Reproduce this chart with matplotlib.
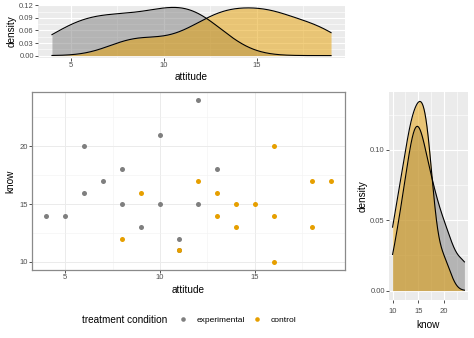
import numpy as np
import matplotlib
matplotlib.use('Agg')
import matplotlib.pyplot as plt
from matplotlib.lines import Line2D

plt.rcParams['font.family'] = ['Liberation Sans', 'DejaVu Sans']

# attitude / know scores per group
# (experimental (11, 11) sits under the control point, as the densities show)
exp_attitude = [4, 5, 6, 6, 7, 8, 8, 9, 10, 10, 11, 11, 12, 12, 13]
exp_know = [14, 14, 20, 16, 17, 18, 15, 13, 21, 15, 12, 11, 24, 15, 18]
ctl_attitude = [8, 9, 11, 12, 13, 13, 14, 14, 15, 16, 16, 16, 18, 18, 19]
ctl_know = [12, 16, 11, 17, 16, 14, 15, 13, 15, 20, 14, 10, 17, 13, 17]

groups = ['experimental', 'control']
colors = {'experimental': '#7F7F7F', 'control': '#E69F00'}

W, H = 474, 338
TITLE_SIZE = 7.2


def box(x0, y0, x1, y1):
    '''Pixel box (top-left origin) -> figure fraction rect.'''
    return [x0 / W, (H - y1) / H, (x1 - x0) / W, (y1 - y0) / H]


def bw_nrd0(x):
    x = np.asarray(x, float)
    iqr = np.subtract(*np.percentile(x, [75, 25]))
    lo = min(np.std(x, ddof=1), iqr / 1.34)
    return 0.9 * lo * len(x) ** -0.2


def kde(x, grid):
    x = np.asarray(x, float)
    h = bw_nrd0(x)
    z = (grid[:, None] - x[None, :]) / h
    return np.exp(-0.5 * z ** 2).sum(axis=1) / (len(x) * h * np.sqrt(2 * np.pi))


def style_ticks(ax):
    ax.tick_params(which='major', length=2, width=0.6, color='#333333',
                   labelsize=5.5, labelcolor='#4D4D4D', pad=1)
    ax.tick_params(which='minor', length=0)


def gray_theme(ax):
    ax.set_facecolor('#EBEBEB')
    for s in ax.spines.values():
        s.set_visible(False)
    ax.grid(which='major', color='white', lw=0.8)
    ax.grid(which='minor', color='white', lw=0.4)
    ax.set_axisbelow(True)
    style_ticks(ax)


def density_panel(ax, data, lo, hi):
    grid = np.linspace(lo, hi, 512)
    top = 0
    for g in groups:
        d = kde(data[g], grid)
        ax.fill_between(grid, 0, d, color=colors[g], alpha=0.5, lw=0)
        ax.plot(grid, d, color='black', lw=0.8)
        top = max(top, d.max())
    ax.set_ylim(-0.05 * top, 1.05 * top)


fig = plt.figure(figsize=(W / 100, H / 100), dpi=100)

# top: attitude density
ax_top = fig.add_axes(box(38, 5, 345, 58))
gray_theme(ax_top)
density_panel(ax_top, {'experimental': exp_attitude, 'control': ctl_attitude},
              4, 19)
ax_top.set_xlim(3.25, 19.75)
ax_top.set_xticks([5, 10, 15])
ax_top.set_xticks([7.5, 12.5, 17.5], minor=True)
ax_top.set_yticks([0, 0.03, 0.06, 0.09, 0.12])
ax_top.set_yticks([0.015, 0.045, 0.075, 0.105], minor=True)
ax_top.set_yticklabels(['0.00', '0.03', '0.06', '0.09', '0.12'])
ax_top.set_xlabel('attitude', fontsize=TITLE_SIZE, labelpad=2)
ax_top.set_ylabel('density', fontsize=TITLE_SIZE, labelpad=2)

# main scatter
ax = fig.add_axes(box(32, 92, 345, 270))
ax.scatter(exp_attitude, exp_know, s=13, color=colors['experimental'],
           lw=0, zorder=3)
ax.scatter(ctl_attitude, ctl_know, s=13, color=colors['control'],
           lw=0, zorder=3)
ax.set_xlim(3.25, 19.75)
ax.set_ylim(9.3, 24.7)
ax.set_xticks([5, 10, 15])
ax.set_xticks([7.5, 12.5, 17.5], minor=True)
ax.set_yticks([10, 15, 20])
ax.set_yticks([12.5, 17.5, 22.5], minor=True)
ax.grid(which='major', color='#EBEBEB', lw=0.7)
ax.grid(which='minor', color='#F2F2F2', lw=0.4)
ax.set_axisbelow(True)
for s in ax.spines.values():
    s.set_color('#8A8A8A')
    s.set_linewidth(0.9)
style_ticks(ax)
ax.set_xlabel('attitude', fontsize=TITLE_SIZE, labelpad=3)
ax.set_ylabel('know', fontsize=TITLE_SIZE, labelpad=3)

# right: know density
ax_r = fig.add_axes(box(389, 92, 468, 300))
gray_theme(ax_r)
density_panel(ax_r, {'experimental': exp_know, 'control': ctl_know}, 10, 24)
ax_r.set_xlim(9.3, 24.7)
ax_r.set_xticks([10, 15, 20])
ax_r.set_xticks([12.5, 17.5, 22.5], minor=True)
ax_r.set_yticks([0, 0.05, 0.10])
ax_r.set_yticks([0.025, 0.075, 0.125], minor=True)
ax_r.set_yticklabels(['0.00', '0.05', '0.10'])
ax_r.tick_params(axis='x', pad=4)
ax_r.set_xlabel('know', fontsize=TITLE_SIZE, labelpad=3)
ax_r.set_ylabel('density', fontsize=TITLE_SIZE, labelpad=2)

# legend below scatter: title text on the left, keys in one row
ly = 1 - 320 / H
fig.text(82 / W, ly, 'treatment condition', fontsize=TITLE_SIZE,
         va='center', ha='left')
handles = [Line2D([], [], marker='o', ls='', markersize=3.3,
                  markerfacecolor=colors[g], markeredgewidth=0, label=g)
           for g in groups]
fig.legend(handles=handles, loc='center left', bbox_to_anchor=(179 / W, ly),
           ncol=2, frameon=False, fontsize=6, borderpad=0, borderaxespad=0,
           handlelength=1.0, handletextpad=1.1, columnspacing=1.0)

fig.savefig('out.png', dpi=100)
